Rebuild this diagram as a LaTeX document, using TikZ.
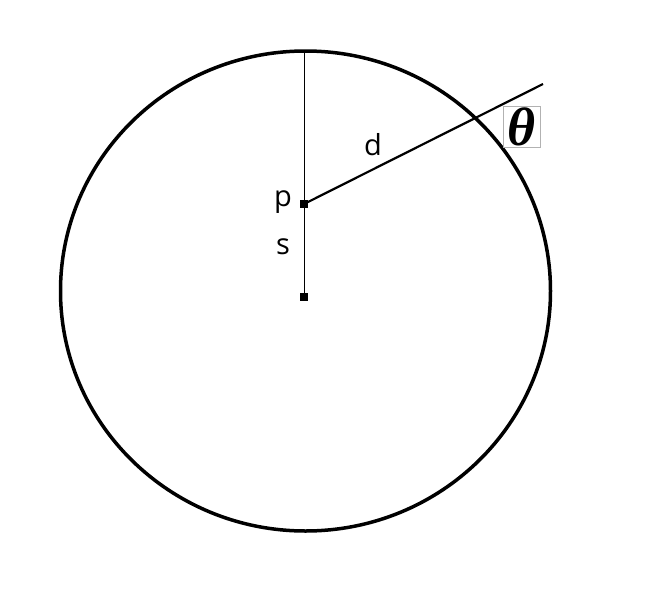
\documentclass[tikz,border=0pt]{standalone}
\usepackage{fontspec}
\setmainfont{Open Sans}
\newfontfamily\thetafont{Liberation Serif}
\begin{document}
\begin{tikzpicture}[x=1pt,y=-1pt,
  lbl/.style={font=\fontsize{29}{29}\selectfont, inner sep=0pt},
  pt/.style={fill=black, minimum size=8pt, inner sep=0pt, rectangle}]
\useasboundingbox (0,0) rectangle (654,600);
\draw[line width=3.5pt] (305.5,291) ellipse [x radius=245, y radius=240];
\coordinate (top) at (304,51);
\coordinate (end) at (543,84);
\node[pt] (p) at (304,204) {};
\node[pt] (c) at (304,297) {};
\draw[line width=1pt] (top) -- (c.center);
\draw[line width=2.2pt] (p.center) -- (end);
\node[lbl] (lp) at (283,202) {p};
\node[lbl] (ls) at (283,247) {s};
\node[lbl] (ld) at (373,145) {d};
\node[draw=gray!60, line width=0.6pt, minimum width=37pt, minimum height=41pt, inner sep=0pt] (th) at (521.5,126.5) {};
\node[font=\thetafont\bfseries\itshape\fontsize{54}{54}\selectfont, inner sep=0pt] (tht) at (th.center) {θ};
\end{tikzpicture}
\end{document}
